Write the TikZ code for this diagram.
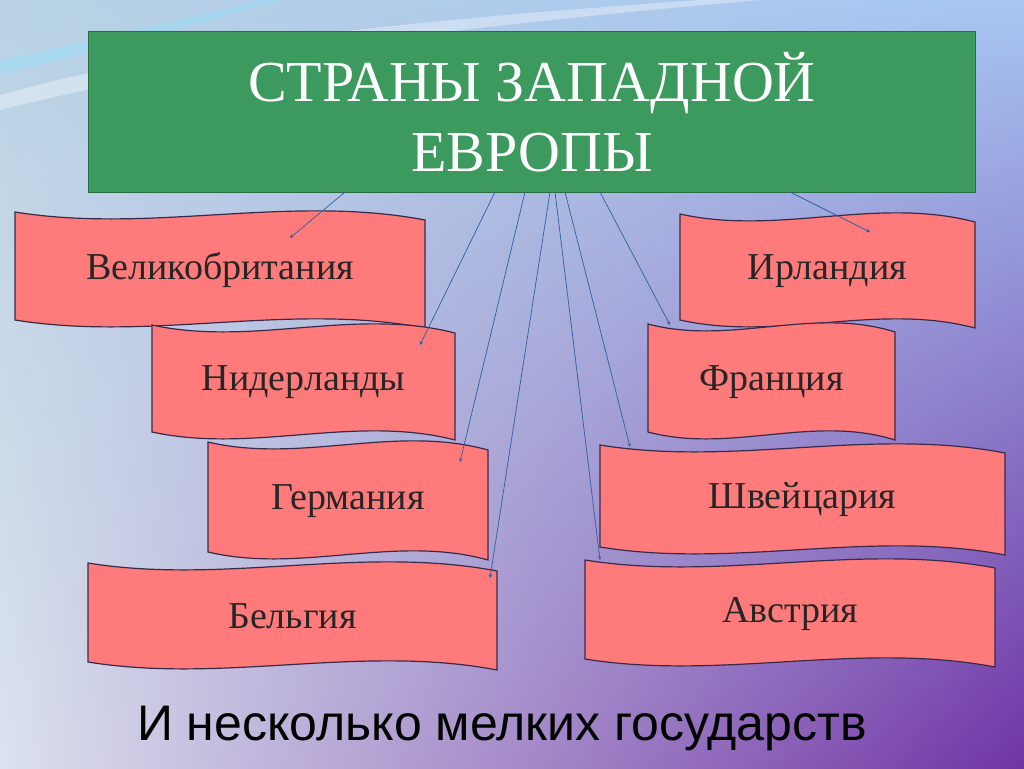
\documentclass[tikz,border=0pt]{standalone}
\usepackage{fontspec}
\usetikzlibrary{shadings}
\setmainfont{Liberation Serif}
\newfontfamily\sansf{Liberation Sans}
\begin{document}
\begin{tikzpicture}[x=1pt,y=-1pt,
  bannerstyle/.style={fill=bannerred,draw=bannerline,line width=1.2pt},
  lbl/.style={font=\fontsize{38}{42}\selectfont,text=black!85},
  arr/.style={draw=arrowblue,line width=0.7pt,-stealth}]
\definecolor{bannerred}{HTML}{FF7B7B}
\definecolor{bannerline}{HTML}{3A2A4A}
\definecolor{arrowblue}{HTML}{2F5F9F}
\definecolor{titlegreen}{HTML}{3C9A5E}
\definecolor{bgul}{HTML}{B8D2E4}
\definecolor{bgur}{HTML}{A6C6F2}
\definecolor{bgll}{HTML}{DCE2EE}
\definecolor{bglr}{HTML}{7034A4}
\newcommand\bnr[6]{%
  \draw[bannerstyle] (#1,#3) .. controls ({#1+(#2-#1)/3},#3+22) and ({#1+2*(#2-#1)/3},#3-18) .. (#2,#3+8)
    -- (#2,#4) .. controls ({#1+2*(#2-#1)/3},#4-26) and ({#1+(#2-#1)/3},#4+14) .. (#1,#4-8) -- cycle;
  \node[lbl] (#5) at ({(#1+#2)/2},{(#3+#4)/2}) {#6};}
\useasboundingbox (0,0) rectangle (1024,768);
\shade[upper left=bgul,upper right=bgur,lower left=bgll,lower right=bglr] (0,0) rectangle (1024,768);
\fill[white,opacity=0.35] (0,95) .. controls (200,40) and (420,20) .. (700,0) -- (760,0) .. controls (420,30) and (200,60) .. (0,110) -- cycle;
\fill[cyan!40,opacity=0.5] (0,60) .. controls (100,40) and (180,20) .. (260,0) -- (280,0) .. controls (180,30) and (100,50) .. (0,75) -- cycle;
\draw[titlegreen!70!black,fill=titlegreen,line width=1pt] (88,32) rectangle (975,192);
\node[text=white,font=\fontsize{58}{70}\selectfont,align=center] (title) at (532,112) {СТРАНЫ ЗАПАДНОЙ\\ЕВРОПЫ};
\bnr{15}{425}{212}{328}{gb}{Великобритания}
\bnr{152}{455}{325}{440}{nl}{Нидерланды}
\bnr{208}{488}{442}{560}{de}{Германия}
\bnr{88}{497}{563}{670}{be}{Бельгия}
\bnr{680}{975}{214}{328}{ie}{Ирландия}
\bnr{648}{895}{324}{440}{fr}{Франция}
\bnr{600}{1005}{445}{555}{ch}{Швейцария}
\bnr{585}{995}{560}{667}{at}{Австрия}
\foreach \n/\sx/\ex/\ey in {a1/345/290/238,a2/495/420/345,a3/525/460/462,a4/550/490/578,a5/790/870/232,a6/600/670/325,a7/565/630/447,a8/555/600/560}{
  \coordinate (s\n) at (\sx,192);
  \coordinate (e\n) at (\ex,\ey);
  \draw[arr] (s\n) -- (e\n);}
\node[font=\sansf\fontsize{50}{56}\selectfont,text=black] (foot) at (502,728) {И несколько мелких государств};
\end{tikzpicture}
\end{document}
